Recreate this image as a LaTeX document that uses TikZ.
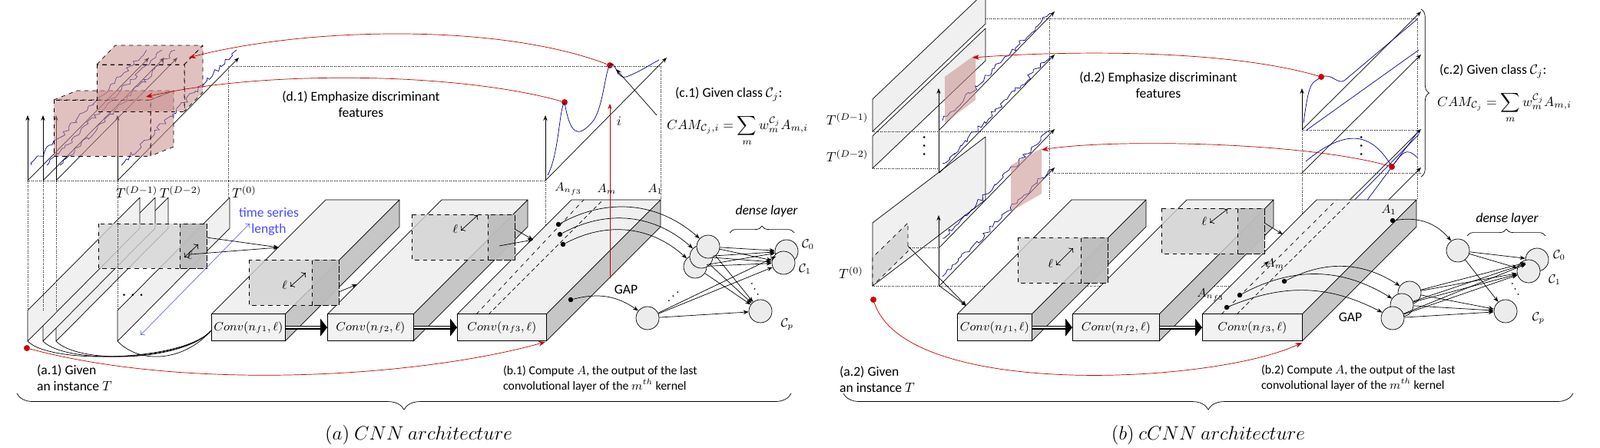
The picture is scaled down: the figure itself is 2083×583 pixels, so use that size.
\documentclass[tikz,border=0pt]{standalone}
\usepackage{fontspec}
\setmainfont{Carlito}
\usepackage{amsmath}
\usetikzlibrary{decorations.pathmorphing,decorations.pathreplacing,arrows.meta}
\definecolor{camred}{RGB}{200,140,140}
% one slanted plane: x, y bottom, height, dx, dy
\newcommand{\plane}[5]{\filldraw[slice] (#1,#2) -- ++(0,-#3) -- ++(#4,#5) -- ++(0,#3) -- cycle;}
% conv block: name, x left, width, label
\newcommand{\convblock}[4]{
  \filldraw[slice] (#2,409) -- ++(#3,0) -- ++(149,-149) -- ++(-#3,0) -- cycle;
  \filldraw[side] (#2+#3,409) -- ++(149,-149) -- ++(0,35) -- ++(-149,149) -- cycle;
  \node[conv, minimum width=#3*0.2mm, anchor=south west] (#1) at (#2,444) {#4};}
% dashed grey window: x, y top, w, h
\newcommand{\window}[4]{
  \filldraw[win] (#1,#2) rectangle ++(#3,#4);
  \filldraw[win,fill=gray!55] (#1+#3-35,#2+#4) rectangle ++(35,-#4);}
\begin{document}
\begin{tikzpicture}[x=0.2mm, y=-0.2mm, line join=round,
  slice/.style={draw, fill=gray!12, thin},
  side/.style={draw, fill=gray!45, thin},
  conv/.style={draw, fill=gray!10, minimum height=7mm, inner sep=1pt, font=\small},
  win/.style={draw, dashed, fill=gray!35, fill opacity=0.8},
  cube/.style={draw, dashed, fill=camred, fill opacity=0.55},
  dot/.style={densely dotted, thin},
  series/.style={draw=blue!50!black, thin, decorate, decoration={random steps, segment length=2.5pt, amplitude=1.8pt}},
  cam/.style={draw=blue!50!black, thin},
  red/.style={draw=red!75!black, thin},
  rdot/.style={circle, fill=red!80!black, inner sep=1.6pt},
  bdot/.style={circle, fill=black, inner sep=1.3pt},
  neuron/.style={draw, circle, fill=gray!15, minimum size=6mm, inner sep=0pt},
  ax/.style={-{Stealth[length=4pt]}, thin},
  arr/.style={-{Stealth[length=4pt]}, thin},
  dbl/.style={-{Triangle[length=5pt]}, double, double distance=1.2pt, thick},
  txt/.style={font=\normalsize, align=left, inner sep=1pt}]
\useasboundingbox (0,0) rectangle (2083,583);

%%%%%%%%%% (a) CNN %%%%%%%%%%
\foreach \x in {153,73,56,36} {\plane{\x}{444}{40}{146}{-147}}
\window{128}{291}{141}{58}
\draw[<->, thin] (240,335) -- (258,318) node[right, inner sep=0pt, font=\small, pos=0.2] {$\ell$};
\node[font=\Large] at (175,385) {$\cdots$};
\node at (178,250) {$T^{(D-1)}$};
\node at (235,250) {$T^{(D-2)}$};
\node at (318,250) {$T^{(0)}$};
\draw[<->, blue!60, thin] (183,436) -- (325,291);
\node[blue!70, font=\normalsize, align=center] at (350,288) {time series\\length};

% dotted guides
\foreach \x in {36,56,73,153} {\draw[dot] (\x,404) -- (\x,235);}
\draw[dot] (36,235) -- (710,235);
\draw[dot] (297,86) -- (860,86);
\draw[dot] (297,86) -- (297,257);
\draw[dot] (710,235) -- (710,444);
\draw[dot] (860,86) -- (860,260);

% input series
\foreach \x in {36,56,73,153} {
  \draw[ax] (\x,235) -- (\x,150);
  \draw[ax] (\x,235) -- ++(158,-160);
  \draw[series] (\x+5,215) -- ++(150,-150);}
\filldraw[cube] (70,130) rectangle (196,203);
\filldraw[cube] (70,130) -- ++(30,-12) -- ++(126,0) -- (196,130) -- cycle;
\filldraw[cube] (196,130) -- ++(30,-12) -- ++(0,73) -- (196,203) -- cycle;
\filldraw[cube] (126,84) rectangle (240,145);
\filldraw[cube] (126,84) -- ++(24,-25) -- ++(114,0) -- (240,84) -- cycle;
\filldraw[cube] (240,84) -- ++(24,-25) -- ++(0,61) -- (240,145) -- cycle;

% conv blocks
\convblock{c1a}{275}{96}{$Conv(n_{f1},\ell)$}
\convblock{c2a}{426}{112}{$Conv(n_{f2},\ell)$}
\convblock{c3a}{595}{116}{$Conv(n_{f3},\ell)$}
\draw[dbl] (c1a) -- (c2a);
\draw[dbl] (c2a) -- (c3a);
\window{324}{338}{117}{59}
\draw[<->, thin] (378,373) -- (398,355) node[left, pos=0.1, font=\small] {$\ell$};
\window{536}{279}{134}{59}
\draw[<->, thin] (600,300) -- (622,280) node[left, pos=0.1, font=\small] {$\ell$};
\draw[arr] (269,309) -- (363,322);
\draw[arr] (248,331) -- (363,322);
\draw[arr] (441,380) -- (465,370);
\draw[arr] (670,298) -- (694,312);
\draw[arr] (650,320) -- (694,312);
\foreach \x in {36,56,73,153} {\draw[thin] (\x,444) .. controls (\x+30,475) and (240,470) .. (275,430);}
\draw[dashed, thin] (620,409) -- (760,260);
\draw[densely dashed, thin] (636,409) -- (785,260);
\node[font=\small] at (740,246) {$A_{n_{f3}}$};
\node[font=\small] at (790,246) {$A_m$};
\node[font=\small] at (853,246) {$A_1$};

% dense part (a)
\node[neuron] (ga1) at (905,347) {};
\node[neuron] (ga2) at (913,334) {};
\node[neuron] (ga3) at (922,321) {};
\node[neuron] (ga4) at (843,414) {};
\node[neuron] (oa1) at (1024,327) {};
\node[neuron] (oa2) at (1020,342) {};
\node[neuron] (oa3) at (990,405) {};
\node[bdot] (pa1) at (727,292) {};
\node[bdot] (pa2) at (729,305) {};
\node[bdot] (pa3) at (733,318) {};
\node[bdot] (pa4) at (743,390) {};
\draw[arr] (pa1) to[bend left=35] (ga3);
\draw[arr] (pa2) to[bend left=35] (ga2);
\draw[arr] (pa3) to[bend left=35] (ga1);
\draw[arr] (pa4) to[bend left=25] (ga4);
\foreach \s in {ga1,ga2,ga3,ga4} {\foreach \t in {oa1,oa2,oa3} {\draw[arr] (\s) -- (\t);}}
\node at (815,377) {GAP};
\node[rotate=45, inner sep=0pt] at (878,385) {$\cdots$};
\node[rotate=-60, inner sep=0pt] at (983,378) {$\cdots$};
\node[font=\small] at (1052,318) {$\mathcal{C}_0$};
\node[font=\small] at (1048,350) {$\mathcal{C}_1$};
\node[font=\small] at (1025,422) {$\mathcal{C}_p$};
\node[font=\itshape] at (998,275) {dense layer};
\draw[decorate, decoration={brace, amplitude=5pt}] (950,303) -- (1034,303);

% CAM (a)
\draw[ax] (710,235) -- (710,150);
\draw[ax] (710,235) -- (868,75);
\node[rdot] (ra2) at (735,133) {};
\node[rdot] (ra1) at (794,85) {};
\draw[cam] (713,228) .. controls (728,200) and (728,140) .. (ra2.center)
  .. controls (742,175) and (752,180) .. (770,160)
  .. controls (785,145) and (788,90) .. (ra1.center)
  .. controls (800,75) and (803,105) .. (815,100) .. controls (830,95) and (845,85) .. (858,78);
\coordinate (ia) at (794,362);
\draw[red, -{Stealth[length=4pt]}] (ia) -- (794,135);
\node at (806,158) {$i$};
\draw[red, -{Stealth[length=5pt]}] (ra1) .. controls (650,30) and (400,35) .. (246,75);
\draw[red, -{Stealth[length=5pt]}] (ra2) .. controls (600,95) and (350,90) .. (190,126);
\node[txt, align=center] at (470,136) {(d.1) Emphasize discriminant\\features};
\node[txt, anchor=west] (ca) at (877,123) {(c.1) Given class $\mathcal{C}_j$:};
\node[anchor=west] (fa) at (862,170) {$CAM_{\mathcal{C}_j,i}=\displaystyle\sum_m w_m^{\mathcal{C}_j}A_{m,i}$};
\draw[arr] (855,150) -- (802,90);
\node[rdot] (sa) at (35,453) {};
\draw[red, -{Stealth[length=5pt]}] (sa) .. controls (250,510) and (550,490) .. (710,445);
\node[txt] at (97,492) {(a.1) Given\\an instance $T$};
\node[txt, anchor=west, font=\small] at (653,493) {(b.1) Compute $A$, the output of the last\\convolutional layer of the $m^{th}$ kernel};
\draw[decorate, decoration={brace, mirror, amplitude=12pt}] (22,512) -- (1030,512);
\node[font=\Large] at (545,566) {$(a)\ CNN\ architecture$};

%%%%%%%%%% (b) cCNN %%%%%%%%%%
\plane{1136}{372}{82}{147}{-112}
\plane{1136}{219}{42}{147}{-140}
\plane{1136}{171}{42}{147}{-140}
\filldraw[win] (1136,372) -- (1136,335) -- (1182,290) -- (1182,327) -- cycle;
\node at (1103,155) {$T^{(D-1)}$};
\node at (1103,203) {$T^{(D-2)}$};
\node at (1108,355) {$T^{(0)}$};
\node[rotate=90, font=\Large] at (1204,188) {$\cdots$};
\node[rotate=90, font=\Large] at (1773,188) {$\cdots$};
\draw[dot] (1136,171) -- (1366,171);
\draw[dot] (1136,219) -- (1222,219);
\draw[dot] (1136,372) -- (1695,372);
\draw[dot] (1183,322) -- (1222,322);
\draw[dot] (1283,24) -- (1845,24);
\draw[dot] (1366,24) -- (1366,260);
\draw[dot] (1695,169) -- (1845,169);
\draw[dot] (1372,225) -- (1850,225);
\draw[dot] (1695,169) -- (1695,444);
\draw[dot] (1845,24) -- (1845,260);
\foreach \y in {169,225,322,372} {
  \draw[ax] (1223,\y) -- ++(150,-154);
  \draw[series] (1227,\y-12) -- ++(140,-140);}
\draw[ax] (1222,225) -- (1222,115);
\draw[ax] (1222,372) -- (1222,280);
\foreach \y in {169,225} {\draw[ax] (1695,\y) -- ++(155,-154);}
\draw[ax] (1695,169) -- (1695,115);
\draw[ax] (1695,372) -- (1695,320);
\draw[ax] (1695,372) -- ++(155,-154);
\draw[ax] (1695,322) -- ++(155,-154);
\filldraw[cube, draw=none] (1230,160) -- (1230,100) -- (1270,71) -- (1270,130) -- cycle;
\filldraw[cube, draw=none] (1316,275) -- (1316,215) -- (1356,193) -- (1356,252) -- cycle;
\draw[cam] (1697,160) .. controls (1705,100) and (1708,110) .. (1720,100)
  .. controls (1735,95) and (1740,110) .. (1750,105) -- (1845,25);
\draw[cam] (1700,170) -- (1847,65);
\draw[cam] (1700,368) -- (1847,170);
\draw[cam] (1700,325) -- (1847,175);
\draw[cam] (1700,210) .. controls (1760,160) and (1790,180) .. (1812,217)
  .. controls (1825,200) and (1830,190) .. (1845,205);
\node[rdot] (rb1) at (1720,100) {};
\node[rdot] (rb2) at (1812,217) {};
\draw[red, -{Stealth[length=5pt]}] (rb1) .. controls (1600,65) and (1400,65) .. (1266,75);
\draw[red, -{Stealth[length=5pt]}] (rb2) .. controls (1700,185) and (1450,180) .. (1356,195);
\node[txt, align=center] at (1508,111) {(d.2) Emphasize discriminant\\features};
\draw[decorate, decoration={brace, amplitude=6pt}] (1850,12) -- (1850,230);
\node[txt, anchor=west] (cb) at (1872,93) {(c.2) Given class $\mathcal{C}_j$:};
\node[anchor=west] (fb) at (1865,140) {$CAM_{\mathcal{C}_j}=\displaystyle\sum_m w_m^{\mathcal{C}_j}A_{m,i}$};

\convblock{c1b}{1246}{97}{$Conv(n_{f1},\ell)$}
\convblock{c2b}{1396}{113}{$Conv(n_{f2},\ell)$}
\convblock{c3b}{1565}{130}{$Conv(n_{f3},\ell)$}
\draw[dbl] (c1b) -- (c2b);
\draw[dbl] (c2b) -- (c3b);
\window{1325}{309}{117}{59}
\draw[<->, thin] (1375,345) -- (1397,323) node[left, pos=0.1, font=\small] {$\ell$};
\window{1512}{271}{134}{59}
\draw[<->, thin] (1575,290) -- (1598,272) node[left, pos=0.1, font=\small] {$\ell$};
\draw[arr] (1182,320) -- (1258,398);
\draw[arr] (1223,372) -- (1258,398);
\draw[arr] (1646,290) -- (1670,305);
\draw[arr] (1642,348) -- (1652,340);
\draw[dashed, thin] (1590,409) -- (1740,260);
\draw[densely dashed, thin] (1610,409) -- (1760,260);
\node[font=\small] at (1808,273) {$A_1$};
\node[font=\small] at (1660,343) {$A_m$};
\node[font=\small] at (1576,384) {$A_{n_{f3}}$};

\node[neuron] (gb1) at (1898,326) {};
\node[neuron] (gb2) at (1835,381) {};
\node[neuron] (gb3) at (1825,397) {};
\node[neuron] (gb4) at (1813,414) {};
\node[neuron] (ob1) at (2001,338) {};
\node[neuron] (ob2) at (1990,353) {};
\node[neuron] (ob3) at (1960,405) {};
\node[bdot] (pb1) at (1813,287) {};
\node[bdot] (pb2) at (1672,366) {};
\node[bdot] (pb3) at (1614,384) {};
\node[bdot] (pb4) at (1597,400) {};
\draw[arr] (pb1) to[bend left=30] (gb1);
\draw[arr] (pb2) to[bend left=30] (gb2);
\draw[arr] (pb3) to[bend left=30] (gb3);
\draw[arr] (pb4) to[bend left=25] (gb4);
\foreach \s in {gb1,gb2,gb3,gb4} {\foreach \t in {ob1,ob2,ob3} {\draw[arr] (\s) -- (\t);}}
\node at (1758,413) {GAP};
\node[rotate=-60, inner sep=0pt] at (1973,378) {$\cdots$};
\node[font=\small] at (2030,332) {$\mathcal{C}_0$};
\node[font=\small] at (2024,364) {$\mathcal{C}_1$};
\node[font=\small] at (2003,414) {$\mathcal{C}_p$};
\node[font=\itshape] at (1962,285) {dense layer};
\draw[decorate, decoration={brace, amplitude=5pt}] (1910,307) -- (2012,307);
\node[rdot] (sb) at (1137,390) {};
\draw[red, -{Stealth[length=5pt]}] (sb) .. controls (1180,520) and (1580,500) .. (1695,446);
\node[txt] at (1142,494) {(a.2) Given\\an instance $T$};
\node[txt, anchor=west, font=\small] at (1640,492) {(b.2) Compute $A$, the output of the last\\convolutional layer of the $m^{th}$ kernel};
\draw[decorate, decoration={brace, mirror, amplitude=12pt}] (1098,512) -- (2048,512);
\node[font=\Large] at (1573,566) {$(b)\ cCNN\ architecture$};
\end{tikzpicture}
\end{document}
